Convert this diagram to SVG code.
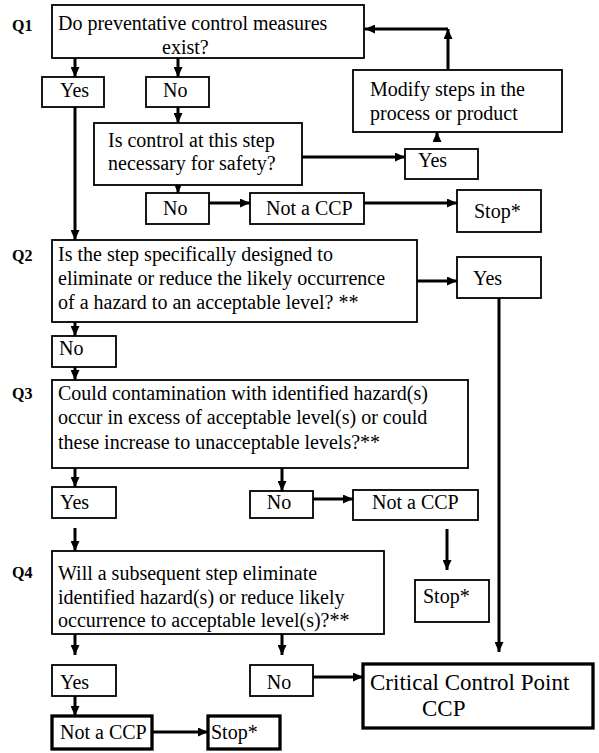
<svg xmlns="http://www.w3.org/2000/svg" width="599" height="753" viewBox="0 0 599 753">
<style>
.box{fill:#fff;stroke:#000;stroke-width:1.8}
.thick{fill:#fff;stroke:#000;stroke-width:3.3}
.t{font-family:"Liberation Serif","Times New Roman",serif;font-size:20px;fill:#000}
.big{font-family:"Liberation Serif","Times New Roman",serif;font-size:23px;fill:#000}
.q{font-family:"Liberation Serif","Times New Roman",serif;font-size:16px;font-weight:bold;fill:#000}
.c{fill:none;stroke:#000;stroke-width:3;marker-end:url(#ah)}
</style>
<defs>
<marker id="ah" markerUnits="userSpaceOnUse" markerWidth="11" markerHeight="9" refX="10" refY="4.5" orient="auto">
<path d="M0,0 L10,4.5 L0,9 z" fill="#000"/>
</marker>
</defs>
<rect width="599" height="753" fill="#fff"/>
<text class="q" x="12" y="31">Q1</text>
<text class="q" x="12" y="261">Q2</text>
<text class="q" x="12" y="399">Q3</text>
<text class="q" x="12" y="578">Q4</text>
<g id="connectors">
<path class="c" d="M75 58 V77"/>
<path class="c" d="M178 58 V77"/>
<path class="c" d="M178 107 V123"/>
<path class="c" d="M75 107 V240"/>
<path class="c" d="M178 185 V193"/>
<path class="c" d="M209 203 H250"/>
<path class="c" d="M364 203 H457"/>
<path class="c" d="M302 157 H405"/>
<path class="c" d="M437 140 V132"/>
<path class="c" d="M448 70 V29"/>
<path class="c" d="M448 29 H365"/>
<path class="c" d="M417 281 H457"/>
<path class="c" d="M499 298 V652"/>
<path class="c" d="M75 322 V336"/>
<path class="c" d="M75 367 V380"/>
<path class="c" d="M75 468 V487"/>
<path class="c" d="M282 468 V491"/>
<path class="c" d="M313 499 H353"/>
<path class="c" d="M447 529 V570"/>
<path class="c" d="M75 528 V551"/>
<path class="c" d="M75 634 V655"/>
<path class="c" d="M282 634 V655"/>
<path class="c" d="M313 677 H363"/>
<path class="c" d="M75 696 V716"/>
<path class="c" d="M152 732 H208"/>
</g>
<g id="q1"><rect class="box" x="52" y="5" width="312" height="53"/>
<text class="t" x="58" y="30">Do preventative control measures</text>
<text class="t" x="162" y="54">exist?</text></g>
<g id="q1-yes"><rect class="box" x="42" y="77" width="62" height="30"/><text class="t" x="60" y="97">Yes</text></g>
<g id="q1-no"><rect class="box" x="146" y="77" width="63" height="30"/><text class="t" x="163" y="97">No</text></g>
<g id="q1b"><rect class="box" x="94" y="123" width="208" height="62"/>
<text class="t" x="108" y="147">Is control at this step</text>
<text class="t" x="108" y="170">necessary for safety?</text></g>
<g id="q1b-yes"><rect class="box" x="405" y="149" width="73" height="30"/><text class="t" x="418" y="167">Yes</text></g>
<g id="modify"><rect class="box" x="353" y="70" width="209" height="62"/>
<text class="t" x="370" y="96">Modify steps in the</text>
<text class="t" x="370" y="120">process or product</text></g>
<g id="q1b-no"><rect class="box" x="146" y="193" width="63" height="31"/><text class="t" x="163" y="215">No</text></g>
<g id="notccp1"><rect class="box" x="250" y="193" width="114" height="31"/><text class="t" x="266" y="215">Not a CCP</text></g>
<g id="stop1"><rect class="box" x="457" y="190" width="84" height="42"/><text class="t" x="474" y="218">Stop*</text></g>
<g id="q2"><rect class="box" x="52" y="240" width="365" height="82"/>
<text class="t" x="58" y="261">Is the step specifically designed to</text>
<text class="t" x="58" y="285">eliminate or reduce the likely occurrence</text>
<text class="t" x="58" y="309">of a hazard to an acceptable level? **</text></g>
<g id="q2-yes"><rect class="box" x="457" y="257" width="84" height="41"/><text class="t" x="473" y="285">Yes</text></g>
<g id="q2-no"><rect class="box" x="52" y="336" width="64" height="31"/><text class="t" x="59" y="355">No</text></g>
<g id="q3"><rect class="box" x="52" y="380" width="416" height="88"/>
<text class="t" x="58" y="400">Could contamination with identified hazard(s)</text>
<text class="t" x="58" y="424">occur in excess of acceptable level(s) or could</text>
<text class="t" x="58" y="449">these increase to unacceptable levels?**</text></g>
<g id="q3-yes"><rect class="box" x="52" y="487" width="64" height="31"/><text class="t" x="60" y="509">Yes</text></g>
<g id="q3-no"><rect class="box" x="250" y="491" width="63" height="27"/><text class="t" x="279" y="509" text-anchor="middle">No</text></g>
<g id="notccp2"><rect class="box" x="353" y="490" width="125" height="30"/><text class="t" x="372" y="509">Not a CCP</text></g>
<g id="stop2"><rect class="box" x="415" y="580" width="74" height="42"/><text class="t" x="423" y="603">Stop*</text></g>
<g id="q4"><rect class="box" x="52" y="551" width="332" height="83"/>
<text class="t" x="58" y="580">Will a subsequent step eliminate</text>
<text class="t" x="58" y="604">identified hazard(s) or reduce likely</text>
<text class="t" x="58" y="627">occurrence to acceptable level(s)?**</text></g>
<g id="q4-yes"><rect class="box" x="52" y="665" width="64" height="31"/><text class="t" x="60" y="689">Yes</text></g>
<g id="q4-no"><rect class="box" x="250" y="665" width="63" height="31"/><text class="t" x="279" y="689" text-anchor="middle">No</text></g>
<g id="notccp3"><rect class="thick" x="52" y="716" width="100" height="33"/><text class="t" x="60" y="739">Not a CCP</text></g>
<g id="stop3"><rect class="thick" x="208" y="716" width="72" height="33"/><text class="t" x="211" y="739">Stop*</text></g>
<g id="ccp"><rect class="thick" x="363" y="664" width="230" height="64"/>
<text class="big" x="370" y="690">Critical Control Point</text>
<text class="big" x="422" y="716">CCP</text></g>
</svg>
